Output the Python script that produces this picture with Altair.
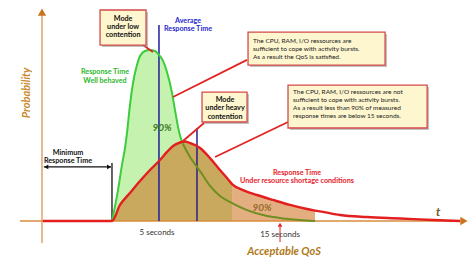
import altair as alt
import pandas as pd

# ---------------- data (x in seconds, y in relative probability) ----------------
green_s = [1.34, 1.83, 2.15, 2.40, 2.56, 2.80, 3.05, 3.37, 3.62, 4.02, 4.43, 4.84, 5.16, 5.49,
           5.81, 6.22, 6.46, 6.71, 6.95, 7.11, 7.68, 8.50, 9.31, 10.12, 11.10, 12.32, 13.62,
           15.24, 16.63, 17.85]
green_p = [0.0, 0.181, 0.327, 0.427, 0.515, 0.678, 0.807, 0.912, 0.965, 0.994, 1.0, 0.994, 0.971,
           0.936, 0.871, 0.749, 0.649, 0.550, 0.480, 0.450, 0.374, 0.292, 0.205, 0.146, 0.105,
           0.064, 0.035, 0.015, 0.006, 0.0]

red_s = [-4.27, 1.34, 1.99, 2.80, 3.62, 4.43, 5.24, 5.81, 6.30, 6.87, 7.28, 7.68, 8.50, 9.31,
         10.12, 10.69, 11.10, 11.99, 13.13, 14.43, 15.81, 17.20, 17.85, 18.50, 19.88, 22.07,
         24.76, 27.44, 29.63]
red_p = [0.0, 0.0, 0.094, 0.164, 0.234, 0.298, 0.357, 0.404, 0.439, 0.459, 0.465, 0.456, 0.427,
         0.368, 0.298, 0.251, 0.216, 0.181, 0.152, 0.123, 0.094, 0.070, 0.061, 0.053, 0.035,
         0.023, 0.015, 0.006, 0.0]

MIN_RT = 1.34        # minimum response time
AVG_RT = 5.16        # average response time (well behaved)
HEAVY_MODE_LINE = 8.25
GREEN_CUT = 11.10    # 90% of the well-behaved curve
RED_CUT = 17.85      # 90% of the shortage curve
QOS = 15.0           # acceptable QoS threshold

FONT = "Lato"

XS = alt.Scale(domain=[-7.764, 30.77], nice=False, zero=False)
YS = alt.Scale(domain=[-0.2456, 1.2924], nice=False, zero=False)


def X(f="s"):
    return alt.X(f"{f}:Q", scale=XS, axis=None)


def Y(f="p"):
    return alt.Y(f"{f}:Q", scale=YS, axis=None)


green = pd.DataFrame({"s": green_s, "p": green_p, "base": 0.0})
red = pd.DataFrame({"s": red_s, "p": red_p, "base": 0.0})


def seg(s1, p1, s2, p2, color, width):
    df = pd.DataFrame({"s": [s1], "p": [p1], "s2": [s2], "p2": [p2]})
    return alt.Chart(df).mark_rule(color=color, strokeWidth=width).encode(
        x=X(), y=Y(), x2="s2:Q", y2="p2:Q")


def pt(s, p, shape, color, size):
    df = pd.DataFrame({"s": [s], "p": [p]})
    return alt.Chart(df).mark_point(shape=shape, filled=True, color=color, size=size,
                                    opacity=1).encode(x=X(), y=Y())


def txt(rows, color, size, bold=True, italic=False, align="center", angle=0):
    df = pd.DataFrame(rows, columns=["s", "p", "t"])
    kw = dict(color=color, fontSize=size, font=FONT, align=align, baseline="middle")
    if bold:
        kw["fontWeight"] = "bold"
    if italic:
        kw["fontStyle"] = "italic"
    if angle:
        kw["angle"] = angle
    return alt.Chart(df).mark_text(**kw).encode(x=X(), y=Y(), text="t:N")


def box(s0, s1, p0, p1):
    df = pd.DataFrame({"s": [s0], "s2": [s1], "p": [p0], "p2": [p1]})
    shadow = alt.Chart(df).mark_rect(color="#9a9a9a", opacity=0.6, xOffset=2, x2Offset=2,
                                     yOffset=2, y2Offset=2).encode(
        x=X(), x2="s2:Q", y=Y(), y2="p2:Q")
    body = alt.Chart(df).mark_rect(fill="#fdf6cf", stroke="#d44a4a", strokeWidth=1.3).encode(
        x=X(), x2="s2:Q", y=Y(), y2="p2:Q")
    return shadow + body


# ---------------- fills ----------------
green_fill = alt.Chart(green).mark_area(color="#c6f2b0", interpolate="monotone").encode(
    x=X(), y=Y(), y2="base:Q")
olive_fill = alt.Chart(red).transform_filter(
    (alt.datum.s >= MIN_RT) & (alt.datum.s <= GREEN_CUT)
).mark_area(color="#c9a95e", interpolate="monotone").encode(x=X(), y=Y(), y2="base:Q")
tan_fill = alt.Chart(red).transform_filter(
    (alt.datum.s >= GREEN_CUT) & (alt.datum.s <= RED_CUT)
).mark_area(color="#e3ae80", interpolate="monotone").encode(x=X(), y=Y(), y2="base:Q")

# ---------------- axes ----------------
AX = "#d98c3e"
axes = (
    seg(-4.35, -0.129, -4.35, 1.205, AX, 1.2)
    + pt(-4.35, 1.222, "triangle-up", "#c8741e", 70)
    + seg(-6.14, 0.0, 29.7, 0.0, AX, 1.5)
    + pt(29.95, 0.0, "triangle-right", "#c8741e", 70)
)

# ---------------- vertical markers ----------------
vlines = (
    seg(AVG_RT, 0.0, AVG_RT, 1.146, "#1f1f9e", 1.5)
    + seg(HEAVY_MODE_LINE, 0.0, HEAVY_MODE_LINE, 0.544, "#2a1f8a", 1.5)
    + seg(MIN_RT, 0.0, MIN_RT, 0.339, "#111111", 1.3)
    + seg(-4.2, 0.316, 1.25, 0.316, "#111111", 1.2)
    + pt(-4.0, 0.316, "triangle-left", "#111111", 22)
    + pt(1.1, 0.316, "triangle-right", "#111111", 22)
)

# ---------------- curves ----------------
green_line_a = alt.Chart(green).transform_filter(alt.datum.s <= 7.11).mark_line(
    color="#3ccc3c", strokeWidth=2, interpolate="monotone").encode(x=X(), y=Y())
green_line_b = alt.Chart(green).transform_filter(alt.datum.s >= 7.11).mark_line(
    color="#6f8f22", strokeWidth=2, interpolate="monotone").encode(x=X(), y=Y())
red_line = alt.Chart(red).mark_line(color="#e31e1e", strokeWidth=2.4,
                                    interpolate="monotone").encode(x=X(), y=Y())

# ---------------- leaders & boxes ----------------
LR = "#e02424"
leaders = (
    seg(3.86, 1.029, 4.67, 0.988, LR, 1.8)
    + seg(12.32, 0.942, 6.30, 0.725, LR, 1.8)
    + seg(8.82, 0.573, 7.11, 0.468, LR, 1.8)
    + seg(15.65, 0.579, 9.72, 0.374, LR, 1.8)
)
boxes = (
    box(0.37, 4.11, 1.234, 1.029)
    + box(8.66, 12.32, 0.754, 0.579)
    + box(12.40, 23.54, 1.105, 0.912)
    + box(15.65, 26.96, 0.795, 0.544)
)

# ---------------- qos arrow ----------------
qos_arrow = seg(QOS, -0.123, QOS, -0.03, "#e02424", 1) + pt(QOS, -0.022, "triangle-up", "#e02424", 22)

# ---------------- texts ----------------
texts = (
    txt([[-5.57, 0.749, "Probability"]], "#c98a2e", 11, italic=True, angle=270)
    + txt([[27.85, 0.053, "t"]], "#7a5a1e", 12, italic=True)
    + txt([[5.0, -0.070, "5 seconds"], [15.0, -0.082, "15 seconds"]], "#333333", 8, bold=False)
    + txt([[15.33, -0.181, "Acceptable QoS"]], "#b07818", 11, italic=True)
    + txt([[-2.24, 0.398, "Minimum"], [-2.24, 0.351, "Response Time"]], "#111111", 7.2)
    + txt([[0.77, 0.870, "Response Time"], [0.77, 0.821, "Well behaved"]], "#2db82d", 7.2)
    + txt([[7.52, 1.170, "Average"], [7.52, 1.123, "Response Time"]], "#2828d0", 7.2)
    + txt([[2.24, 1.180, "Mode"], [2.24, 1.133, "under low"], [2.24, 1.086, "contention"]],
          "#111111", 7.2)
    + txt([[10.53, 0.705, "Mode"], [10.53, 0.658, "under heavy"], [10.53, 0.611, "contention"]],
          "#111111", 7.2)
    + txt([[12.80, 1.053, "The CPU, RAM, I/O ressources are"],
           [12.80, 1.006, "sufficient to cope with activity bursts."],
           [12.80, 0.959, "As a result the QoS is satisfied."]],
          "#222222", 6.5, bold=False, align="left")
    + txt([[16.06, 0.756, "The CPU, RAM, I/O ressources are not"],
           [16.06, 0.709, "sufficient to cope with activity bursts."],
           [16.06, 0.662, "As a result less than 90% of measured"],
           [16.06, 0.615, "response times are below 15 seconds."]],
          "#222222", 6.5, bold=False, align="left")
    + txt([[16.38, 0.283, "Response Time"], [16.38, 0.234, "Under resource shortage conditions"]],
          "#e8202a", 7.2)
    + txt([[5.41, 0.544, "90%"]], "#3d7a1e", 10, italic=True)
    + txt([[13.54, 0.076, "90%"]], "#9a6b2c", 10, italic=True)
)

chart = alt.layer(
    green_fill, olive_fill, tan_fill, axes, vlines, green_line_a, green_line_b, red_line,
    leaders, boxes, qos_arrow, texts
).properties(
    width=474, height=263, padding=0, background="white",
    autosize=alt.AutoSizeParams(type="none")
).configure_view(stroke=None)

chart.save("out.html", embed_options={"renderer": "svg", "actions": False})
